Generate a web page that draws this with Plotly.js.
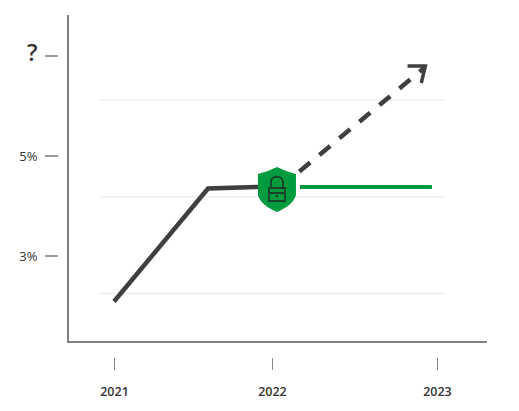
<!DOCTYPE html>
<html><head><meta charset="utf-8">
<script src="https://cdn.plot.ly/plotly-3.0.1.min.js"></script>
<style>html,body{margin:0;padding:0;background:#fff}</style></head>
<body><div id="c" style="width:519px;height:411px"></div>
<script>
const yTickVals=[3,5,7];
const yTickText=['3%','5%','<span style="font-size:23px;font-weight:600">?</span>'];
const xTickVals=[2021,2021.978,2023];
const xTickText=['2021','2022','2023'];
const gridX=[2020.905,2023.045];
const gridLevels=[2.25,4.18,6.12];
const actualX=[2020.997,2021.579,2021.889];
const actualY=[2.09,4.35,4.38];
const dashedX=[2022.145,2022.925];
const dashedY=[4.69,6.78];
const headX=[2022.815,2022.925,2022.9];
const headY=[6.8,6.8,6.46];
const greenX=[2022.149,2022.966];
const greenY=[4.38,4.38];
const lockX=2022.006,lockY=4.38;
const xRange=[2020.718,2023.307],yRange=[1.30,7.82];
const dark='#3f3f3f',green='#009b3e',lockInk='#17402a';
const traces=[];
gridLevels.forEach(v=>traces.push({x:gridX,y:[v,v],mode:'lines',line:{color:'#eeeeee',width:1.5},hoverinfo:'skip'}));
traces.push({x:actualX,y:actualY,mode:'lines',line:{color:dark,width:4.5,simplify:false}});
traces.push({x:dashedX,y:dashedY,mode:'lines',line:{color:dark,width:4.5,dash:'14px,12px'}});
traces.push({x:headX,y:headY,mode:'lines',line:{color:dark,width:3.5}});
traces.push({x:greenX,y:greenY,mode:'lines',line:{color:green,width:4}});
traces.push({x:[2021],y:[3],xaxis:'x2',yaxis:'y2',mode:'markers',marker:{opacity:0},hoverinfo:'skip'});
const px={xsizemode:'pixel',ysizemode:'pixel',xanchor:lockX,yanchor:lockY,xref:'x',yref:'y',type:'path'};
const layout={
 width:519,height:411,showlegend:false,paper_bgcolor:'#fff',plot_bgcolor:'#fff',
 margin:{l:58,r:32,t:15,b:54},
 font:{family:'"Open Sans", sans-serif',color:'#333',size:12},
 xaxis:{domain:[0.0256,1],range:xRange,showgrid:false,zeroline:false,showline:true,linecolor:'#808080',linewidth:2,ticks:'',showticklabels:false,anchor:'y'},
 yaxis:{domain:[0.0468,1],range:yRange,showgrid:false,zeroline:false,showline:true,linecolor:'#808080',linewidth:2,ticks:'',showticklabels:false,anchor:'x'},
 xaxis2:{domain:[0.0256,1],range:xRange,overlaying:'x',anchor:'free',position:0,side:'bottom',showgrid:false,zeroline:false,showline:false,
  tickmode:'array',tickvals:xTickVals,ticktext:xTickText,ticks:'outside',ticklen:12,tickwidth:1.5,tickcolor:'#888',ticklabelstandoff:11,tickfont:{size:12.5,weight:600,color:'#333'}},
 yaxis2:{domain:[0.0468,1],range:yRange,overlaying:'y',anchor:'free',position:0,side:'left',showgrid:false,zeroline:false,showline:false,
  tickmode:'array',tickvals:yTickVals,ticktext:yTickText,ticks:'outside',ticklen:13,tickwidth:1.5,tickcolor:'#999',ticklabelstandoff:5,tickfont:{size:13,color:'#333'}},
 shapes:[
  Object.assign({},px,{path:'M0,20 C6,17 12,15 19,13 L19,-8 C17,-16 9,-21 0,-25 C-9,-21 -17,-16 -19,-8 L-19,13 C-12,15 -6,17 0,20 Z',fillcolor:green,line:{width:0}}),
  Object.assign({},px,{path:'M-8,-1 L8,-1 L8,-14 L-8,-14 Z M-8,-6 L8,-6',fillcolor:'rgba(0,0,0,0)',line:{color:lockInk,width:1.8}}),
  Object.assign({},px,{path:'M-6,-1 L-6,5 C-6,12 6,12 6,5 L6,-1',fillcolor:'rgba(0,0,0,0)',line:{color:lockInk,width:1.8}}),
  Object.assign({},px,{path:'M0,-8 L0,-10',line:{color:lockInk,width:2}})
 ]
};
Plotly.newPlot('c',traces,layout,{displayModeBar:false,staticPlot:true});
</script></body></html>
